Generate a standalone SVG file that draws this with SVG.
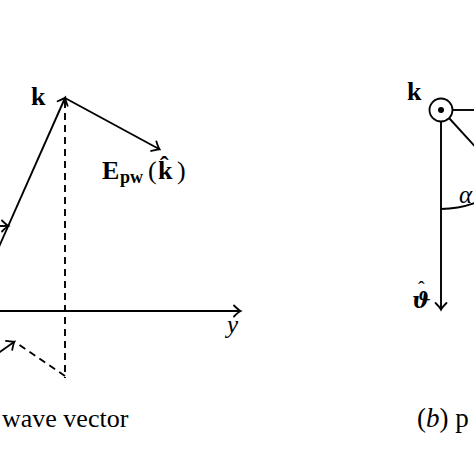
<svg xmlns="http://www.w3.org/2000/svg" width="474" height="474" viewBox="0 0 474 474">
<defs>
<marker id="arr" markerUnits="userSpaceOnUse" markerWidth="20" markerHeight="20" refX="0" refY="0" viewBox="-10 -10 20 20" orient="auto" overflow="visible">
<path d="M -6 -5.5 Q -1.5 -1 0.6 0 Q -1.5 1 -6 5.5" fill="none" stroke="#000" stroke-width="1.8" stroke-linecap="round"/>
</marker>
</defs>
<style>
.ln{stroke:#000;stroke-width:1.9;fill:none}
.ar{marker-end:url(#arr)}
.dash{stroke-dasharray:7 5}
.t{font-family:"Liberation Serif","DejaVu Serif",serif;fill:#000}
.d{font-family:"DejaVu Serif","Liberation Serif",serif;fill:#000}
.b{font-weight:bold}
.i{font-style:italic}
</style>
<rect width="474" height="474" fill="#fff"/>
<g id="connectors">
<line class="ln ar" x1="-5" y1="311" x2="240" y2="311"/>
<line class="ln ar" x1="-6" y1="258" x2="65" y2="98"/>
<line class="ln ar" x1="65" y1="98" x2="159" y2="149"/>
<line class="ln dash" x1="65" y1="101" x2="65" y2="378"/>
<line class="ln dash" x1="65" y1="376" x2="18" y2="344"/>
<line class="ln ar" x1="-12" y1="226" x2="8" y2="226"/>
<line class="ln ar" x1="-6" y1="356" x2="14" y2="342"/>
<line class="ln" x1="452.5" y1="110" x2="480" y2="110"/>
<line class="ln" x1="449" y1="118" x2="480" y2="152"/>
<line class="ln ar" x1="441" y1="121.5" x2="441" y2="309"/>
<path class="ln" d="M 441 209 A 99 99 0 0 0 476 202.6"/>
</g>
<g id="node-k-left">
<text class="t b" x="31" y="105" font-size="26">k</text>
</g>
<g id="node-E">
<text class="t" y="179" font-size="26"><tspan class="b" x="102">E</tspan><tspan class="b" x="120" y="183" font-size="18">pw</tspan><tspan x="148" y="179">(</tspan><tspan class="b" x="158">k̂</tspan><tspan x="177">)</tspan></text>
</g>
<g id="node-y">
<text class="t i" x="227" y="333" font-size="25">y</text>
</g>
<g id="caption-a">
<text class="t" x="2" y="427" font-size="26">wave vector</text>
</g>
<g id="node-k-right">
<text class="t b" x="407" y="100" font-size="26">k</text>
<circle cx="441" cy="110" r="11.5" fill="#fff" stroke="#000" stroke-width="1.8"/>
<circle cx="441" cy="110" r="3" fill="#000"/>
</g>
<g id="node-theta">
<text class="d b i" x="412" y="308" font-size="22">ϑ<tspan class="t" font-weight="normal" font-style="normal" x="418" y="296" font-size="20">ˆ</tspan></text>
</g>
<g id="node-alpha">
<text class="t i" x="459" y="203" font-size="25">α</text>
</g>
<g id="caption-b">
<text class="t" x="417" y="427" font-size="27">(<tspan class="i">b</tspan>) p</text>
</g>
</svg>
